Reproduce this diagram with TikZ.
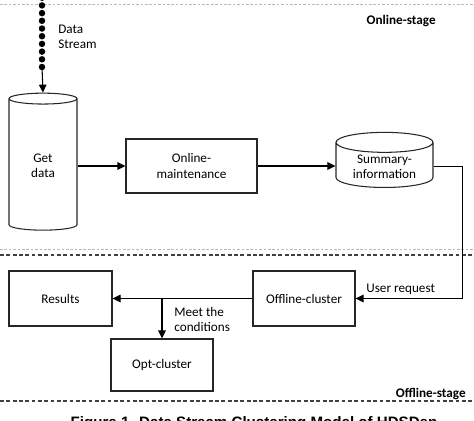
\documentclass[tikz,border=0pt]{standalone}
\usepackage{fontspec}
\setmainfont{Carlito}
\newfontfamily\capfont{Liberation Sans}
\usetikzlibrary{arrows.meta,shapes.geometric}

\begin{document}
\begin{tikzpicture}[x=0.2mm,y=-0.2mm,
  box/.style={draw=black!85,line width=0.6pt,align=center,inner sep=1pt,
    minimum width=20.4mm,minimum height=11mm,font=\fontsize{7.5}{8.6}\selectfont},
  cyl/.style={cylinder,shape border rotate=90,draw=black!85,line width=0.6pt,
    align=center,inner sep=1pt,font=\fontsize{7.5}{8.6}\selectfont},
  arr/.style={-{Triangle[length=1.6mm,width=1.5mm]},line width=0.6pt},
  lab/.style={font=\fontsize{7.5}{8.6}\selectfont,align=left,inner sep=0pt},
  stage/.style={font=\bfseries\fontsize{7.5}{9}\selectfont,inner sep=0pt},
  lightsep/.style={gray!55,line width=0.5pt,dash pattern=on 1.5pt off 1pt},
  darksep/.style={black!75,line width=0.6pt,dash pattern=on 2.2pt off 1.4pt}]
\useasboundingbox (0,0) rectangle (474,420);
% stage borders
\draw[lightsep] (0,4) -- (474,4);
\draw[lightsep] (0,249) -- (474,249);
\draw[darksep] (0,255) -- (474,255);
\draw[darksep] (0,401) -- (474,401);
% online part
\node[cyl,minimum width=13.6mm,minimum height=27.4mm,aspect=0.4] (get) at (43,165.5) {Get\\data};
\node[box,minimum width=26.2mm,minimum height=10.8mm] (om) at (191.5,166) {Online-\\maintenance};
\node[cyl,minimum width=19.4mm,minimum height=11mm,aspect=0.3] (sum) at (384.5,166.5) {Summary-\\information};
\coordinate (srcend) at (42,67);
\foreach \yy in {-2.3,5.4,...,68} \fill (42,\yy) circle (0.65mm);
\draw[arr] (srcend) -- (get.top);
\node[lab,anchor=north west] (ds) at (58,25) {Data\\Stream};
\node[stage,anchor=base east] (on) at (436,24) {Online-stage};
\draw[arr] (get.east |- om.west) -- (om.west);
\draw[arr] (om.east) -- (sum.west |- om.east);
% offline part
\node[box] (oc) at (304,298.5) {Offline-cluster};
\node[box,minimum width=20.6mm] (res) at (60.5,298.5) {Results};
\node[box,minimum height=10.4mm] (opt) at (162,365) {Opt-cluster};
\draw[arr] (sum.east) -- ++(29,0) |- (oc.east);
\node[lab,anchor=south west] (ur) at (366,295) {User request};
\draw[arr] (oc.west) -- (res.east);
\draw[arr] (opt.north |- res.east) -- (opt.north);
\node[lab,anchor=north west] (mc) at (174,307) {Meet the\\conditions};
\node[stage,anchor=base east] (off) at (466,397) {Offline-stage};
% caption, cut by the page edge
\node[font=\capfont\bfseries\fontsize{8.6}{10}\selectfont,anchor=base,inner sep=0pt] (cap) at (254,427) {Figure 1. Data Stream Clustering Model of HDSDen};
\end{tikzpicture}
\end{document}
